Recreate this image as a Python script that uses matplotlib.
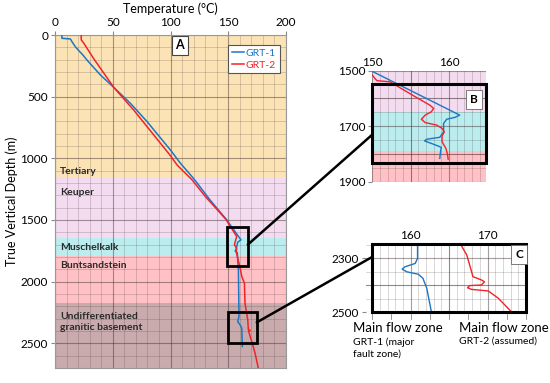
import matplotlib
matplotlib.use("Agg")
import matplotlib.pyplot as plt
from matplotlib.patches import Rectangle, ConnectionPatch
from matplotlib.ticker import MultipleLocator, FixedLocator

plt.rcParams['font.family'] = ['Lato', 'DejaVu Sans']

# ---------------- data ----------------
layer_names = ["Tertiary", "Keuper", "Muschelkalk", "Buntsandstein",
               "Undifferentiated\ngranitic basement"]
layer_tops = [0, 1150, 1650, 1790, 2170]
layer_bottoms = [1150, 1650, 1790, 2170, 2700]
layer_colors = ["#fbe3b6", "#f3dbf0", "#bbecee", "#ffc1c5", "#c9abad"]

grt1_depth = [0, 27, 32, 54, 95, 135, 154, 203, 324, 424, 554, 702, 932, 1040,
              1156, 1202, 1337, 1500, 1661, 1680, 1742, 1750, 1765, 1904, 2283,
              2323, 2350, 2377, 2526]
grt1_temp = [6, 6, 13.3, 14.7, 17.6, 21.4, 23.4, 27.7, 39.3, 50.8, 65.3, 79.7,
             99.9, 108.6, 119.3, 123.2, 134.2, 148.7, 161.0, 158.2, 156.7, 155.9,
             157.8, 158.8, 159.3, 158.2, 160.2, 161.7, 162.2]

grt2_depth = [0, 40, 62, 189, 424, 608, 743, 978, 1054, 1121, 1175, 1310, 1500,
              1525, 1634, 1701, 1728, 1756, 1877, 1958, 2012, 2174, 2310, 2390,
              2396, 2402, 2512, 2580, 2700]
grt2_temp = [22.7, 22.7, 24.6, 33.3, 50.8, 68.1, 79.7, 99.9, 105.7, 112.9, 118.7,
             130.2, 148.5, 150.0, 157.3, 155.3, 157.3, 156.8, 160.0, 161.7, 164.0,
             164.5, 166.9, 167.4, 169.0, 167.6, 171.2, 173.2, 176.0]

# inset B detail (1500-1900 m)
b_grt1_depth = [1504, 1660, 1668, 1675, 1690, 1720, 1740, 1747, 1753, 1762, 1776,
                1792, 1816]
b_grt1_temp = [150.1, 161.4, 160.8, 159.7, 159.3, 159.3, 158.8, 157.1, 156.8,
               157.7, 159.0, 158.9, 158.8]
b_grt2_depth = [1516, 1527, 1536, 1540, 1558, 1594, 1624, 1636, 1648, 1660, 1675,
                1687, 1696, 1708, 1720, 1735, 1756, 1780, 1800, 1819]
b_grt2_temp = [150.0, 150.3, 150.6, 152.3, 153.4, 155.6, 157.5, 158.0, 157.7,
               156.9, 156.4, 156.9, 158.4, 159.1, 159.4, 159.1, 159.1, 159.6,
               159.8, 159.9]
b_ticks_temp = [150, 160]
b_ticks_depth = [1500, 1700, 1900]

# inset C detail (2250-2500 m)
c_grt1_depth = [2248, 2300, 2319, 2331, 2340, 2350, 2359, 2374, 2411, 2498]
c_grt1_temp = [160.9, 160.9, 160.6, 159.3, 158.9, 159.5, 161.0, 161.6, 162.1, 162.7]
c_grt2_depth = [2248, 2288, 2337, 2368, 2380, 2387, 2399, 2401, 2409, 2415, 2421,
                2448, 2495]
c_grt2_temp = [166.5, 167.3, 167.8, 168.1, 169.2, 169.6, 169.2, 167.7, 167.4,
               167.9, 170.1, 171.4, 173.0]
c_ticks_temp = [160, 170]
c_ticks_depth = [2300, 2500]

blue = "#1c76c2"
red = "#f2222a"
minor_grid = dict(color="#3a2a2a", alpha=0.22, lw=0.6)
major_grid = dict(color="#3a2a2a", alpha=0.45, lw=0.8)

fig = plt.figure(figsize=(5.5, 3.83), dpi=100)

# ---------------- main axes ----------------
ax = fig.add_axes([55 / 550, 15 / 383, 231 / 550, 333 / 383])
for top, bot, col in zip(layer_tops, layer_bottoms, layer_colors):
    ax.axhspan(top, bot, color=col, zorder=0.1, lw=0)
ax.set_xlim(0, 200)
ax.set_ylim(2700, 0)
ax.xaxis.set_major_locator(MultipleLocator(50))
ax.xaxis.set_minor_locator(MultipleLocator(10))
ax.yaxis.set_major_locator(MultipleLocator(500))
ax.yaxis.set_minor_locator(MultipleLocator(100))
ax.grid(which="minor", **minor_grid)
ax.grid(which="major", **major_grid)
ax.set_axisbelow(True)
ax.xaxis.tick_top()
ax.xaxis.set_label_position("top")
ax.tick_params(which="both", length=0, labelsize=8.5, pad=2)
ax.tick_params(which="major", length=3, color="#888888")
for s in ax.spines.values():
    s.set_color("#999999")
    s.set_linewidth(0.8)
ax.set_xlabel("Temperature (\u00b0C)", fontsize=9, labelpad=3)
ax.set_ylabel("True Vertical Depth (m)", fontsize=9, labelpad=2)

ax.plot(grt1_temp, grt1_depth, color=blue, lw=1.1, label="GRT-1", zorder=3)
ax.plot(grt2_temp, grt2_depth, color=red, lw=1.1, label="GRT-2", zorder=3)

label_depths = [1105, 1280, 1720, 1870, 2330]
for name, d in zip(layer_names, label_depths):
    ax.text(4.5, d, name, fontsize=7.5, fontweight="bold", color="#2a2a2a",
            va="center", ha="left", linespacing=1.25, zorder=4)

ax.text(108, 85, "A", fontsize=9, fontweight="bold", ha="center", va="center",
        bbox=dict(boxstyle="square,pad=0.3", fc="white", ec="#444444", lw=0.8),
        zorder=5)
leg = ax.legend(loc="upper right", bbox_to_anchor=(0.995, 0.985), fontsize=7.5,
                handlelength=1.2, handletextpad=0.15, borderpad=0.35,
                labelspacing=0.2, frameon=True, fancybox=False,
                edgecolor="#555555", framealpha=1)
leg.get_frame().set_linewidth(0.8)
for t, c in zip(leg.get_texts(), [blue, red]):
    t.set_color(c)

# zoom boxes on main axes
ax.add_patch(Rectangle((148.7, 1553), 166.9 - 148.7, 1870 - 1553, fill=False,
                       ec="black", lw=2.0, zorder=6))
ax.add_patch(Rectangle((150.1, 2242), 174.7 - 150.1, 2500 - 2242, fill=False,
                       ec="black", lw=2.0, zorder=6))

# ---------------- inset B ----------------
axb = fig.add_axes([372.4 / 550, (383 - 181.7) / 383, 113.3 / 550, 111 / 383])
for top, bot, col in zip(layer_tops, layer_bottoms, layer_colors):
    axb.axhspan(top, bot, color=col, zorder=0.1, lw=0)
axb.set_xlim(150, 164.8)
axb.set_ylim(1900, 1500)
axb.xaxis.set_major_locator(FixedLocator(b_ticks_temp))
axb.xaxis.set_minor_locator(MultipleLocator(1))
axb.yaxis.set_major_locator(FixedLocator(b_ticks_depth))
axb.yaxis.set_minor_locator(MultipleLocator(50))
axb.grid(which="minor", axis="both", **minor_grid)
axb.grid(which="major", axis="both", **major_grid)
axb.axvline(155, **major_grid, zorder=0.6)
for h in [1600, 1800]:
    axb.axhline(h, **major_grid, zorder=0.6)
axb.set_axisbelow(True)
axb.xaxis.tick_top()
axb.tick_params(which="both", length=0, labelsize=8.5, pad=2)
axb.tick_params(which="major", axis="y", length=3, color="#888888")
for s in axb.spines.values():
    s.set_visible(False)
axb.plot(b_grt1_temp, b_grt1_depth, color=blue, lw=1.0, zorder=3)
axb.plot(b_grt2_temp, b_grt2_depth, color=red, lw=1.0, zorder=3)
axb.add_patch(Rectangle((150, 1549), 14.8, 1834 - 1549, fill=False, ec="black",
                        lw=2.2, zorder=6, clip_on=False))
axb.text(163.8, 1605, "B", fontsize=8.5, fontweight="bold", ha="right",
         va="center", zorder=7,
         bbox=dict(boxstyle="square,pad=0.35", fc="white", ec="#666666", lw=0.6))

# ---------------- inset C ----------------
axc = fig.add_axes([366 / 550, (383 - 312.3) / 383, 160 / 550, 68.3 / 383])
axc.set_facecolor("white")
axc.set_xlim(154.2, 175.0)
axc.set_ylim(2500, 2247)
axc.xaxis.set_major_locator(FixedLocator(c_ticks_temp))
axc.xaxis.set_minor_locator(MultipleLocator(1))
axc.yaxis.set_major_locator(FixedLocator(c_ticks_depth))
axc.yaxis.set_minor_locator(MultipleLocator(50))
axc.grid(which="minor", axis="both", **minor_grid)
axc.grid(which="major", axis="both", **major_grid)
for v in [155, 165, 175]:
    axc.axvline(v, **major_grid, zorder=0.6)
axc.axhline(2400, **major_grid, zorder=0.6)
axc.set_axisbelow(True)
axc.xaxis.tick_top()
axc.tick_params(which="both", length=0, labelsize=8.5, pad=2)
axc.tick_params(which="major", axis="y", length=3, color="#888888")
for s in axc.spines.values():
    s.set_visible(False)
axc.plot(c_grt1_temp, c_grt1_depth, color=blue, lw=1.0, zorder=3)
axc.plot(c_grt2_temp, c_grt2_depth, color=red, lw=1.0, zorder=3)
axc.add_patch(Rectangle((155, 2247), 20, 2500 - 2247, fill=False, ec="black",
                        lw=2.2, zorder=6, clip_on=False))
axc.text(174.6, 2285, "C", fontsize=8.5, fontweight="bold", ha="right",
         va="center", zorder=7,
         bbox=dict(boxstyle="square,pad=0.35", fc="white", ec="#666666", lw=0.6))
for tv in [155, 157.5, 160, 162.5, 165, 167.5, 170, 172.5, 175]:
    axc.plot([tv, tv], [2500, 2525], color="#888888", lw=0.6, clip_on=False)

fig.text(353 / 550, 1 - 328 / 383, "Main flow zone", fontsize=9.5, ha="left",
         va="center")
fig.text(353 / 550, 1 - 348 / 383, "GRT-1 (major\nfault zone)", fontsize=7.5,
         ha="left", va="center", linespacing=1.3)
fig.text(459 / 550, 1 - 328 / 383, "Main flow zone", fontsize=9.5, ha="left",
         va="center")
fig.text(459 / 550, 1 - 341 / 383, "GRT-2 (assumed)", fontsize=7.5, ha="left",
         va="center")

# connectors
con_b = ConnectionPatch(xyA=(166.9, 1700), coordsA=ax.transData,
                        xyB=(150, 1730), coordsB=axb.transData,
                        color="black", lw=1.8, zorder=10)
fig.add_artist(con_b)
con_c = ConnectionPatch(xyA=(174.7, 2330), coordsA=ax.transData,
                        xyB=(155, 2295), coordsB=axc.transData,
                        color="black", lw=1.8, zorder=10)
fig.add_artist(con_c)

fig.savefig("out.png", dpi=100)
